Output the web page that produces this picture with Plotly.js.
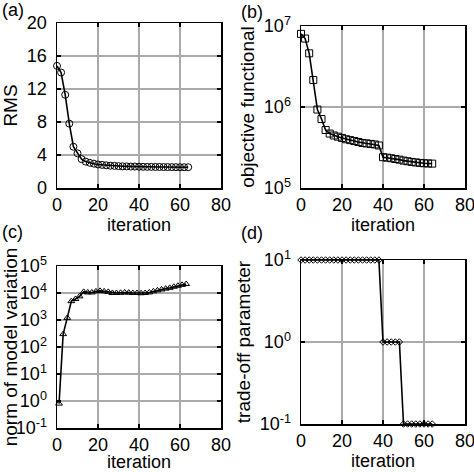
<!DOCTYPE html>
<html>
<head>
<meta charset="utf-8">
<script src="https://cdn.plot.ly/plotly-3.0.1.min.js"></script>
<style>
  html, body { margin: 0; padding: 0; background: #fff; }
  #chart { width: 474px; height: 472px; }
</style>
</head>
<body>
<div id="chart"></div>
<script>
// Inversion convergence history, sampled every second iteration
const iterEven = [0, 2, 4, 6, 8, 10, 12, 14, 16, 18, 20, 22, 24, 26, 28, 30, 32,
                  34, 36, 38, 40, 42, 44, 46, 48, 50, 52, 54, 56, 58, 60, 62, 64];
const iterOdd = [1, 3, 5, 7, 9, 11, 13, 15, 17, 19, 21, 23, 25, 27, 29, 31,
                 33, 35, 37, 39, 41, 43, 45, 47, 49, 51, 53, 55, 57, 59, 61, 63];

// (a) RMS misfit
const rms = [14.8, 14.0, 11.3, 7.8, 5.0, 4.2, 3.5, 3.2, 3.05, 2.95, 2.85, 2.8, 2.75,
             2.7, 2.68, 2.65, 2.63, 2.62, 2.6, 2.6, 2.58, 2.57, 2.56, 2.56, 2.55,
             2.55, 2.54, 2.54, 2.53, 2.53, 2.52, 2.52, 2.52];

// (b) objective functional
const objective = [8.0e6, 7.0e6, 4.6e6, 2.15e6, 9.3e5, 7.1e5, 5.2e5, 4.7e5, 4.45e5,
                   4.3e5, 4.15e5, 4.0e5, 3.9e5, 3.8e5, 3.7e5, 3.6e5, 3.55e5, 3.5e5,
                   3.45e5, 3.35e5, 2.4e5, 2.37e5, 2.33e5, 2.28e5, 2.24e5, 2.18e5,
                   2.14e5, 2.1e5, 2.07e5, 2.04e5, 2.02e5, 2.01e5, 2.0e5];

// (c) norm of model variation
const modelVar = [0.8, 300, 1200, 5000, 6000, 7500, 11000, 10500, 10500, 11500, 12000,
                  11500, 11000, 10000, 10000, 10200, 10500, 10300, 10000, 10000, 9800,
                  10000, 10500, 11500, 12500, 13500, 14500, 15500, 17000, 18500, 20000,
                  21500];

// (d) trade-off parameter
const tradeOff = [10, 10, 10, 10, 10, 10, 10, 10, 10, 10, 10, 10, 10, 10, 10, 10, 10,
                  10, 10, 10, 1, 1, 1, 1, 1, 0.1, 0.1, 0.1, 0.1, 0.1, 0.1, 0.1, 0.1];

const xTicks = [0, 20, 40, 60, 80];
const rmsTicks = [0, 4, 8, 12, 16, 20];

const W = 474, H = 472;
const FONT = 'Liberation Sans, Arial, sans-serif';
const GRID = '#aaaaaa';

// panel boxes in whole pixels
const xDom = (left, right) => [left / W, right / W];
const yDom = (top, bottom) => [(H - bottom) / H, (H - top) / H];

function series(x, y, xa, ya, symbol, size) {
  return {
    x: x, y: y, xaxis: xa, yaxis: ya, type: 'scatter', mode: 'lines+markers',
    line: { color: '#000', width: 1.6 },
    marker: { symbol: symbol, size: size, color: '#000',
              line: { color: '#000', width: 1 } },
    cliponaxis: false,
    hoverinfo: 'skip', showlegend: false
  };
}

function powerTicks(lo, hi) {
  const vals = [], text = [];
  for (let e = lo; e <= hi; e++) {
    vals.push(Math.pow(10, e));
    text.push('10<sup>' + e + '</sup>');
  }
  return { vals, text };
}

function xAxis(domain, anchor) {
  return {
    domain: domain, anchor: anchor, range: [0, 80],
    tickmode: 'array', tickvals: xTicks, ticktext: xTicks.map(String),
    showgrid: true, gridcolor: GRID, gridwidth: 2.5, zeroline: false,
    showline: true, linecolor: '#000', linewidth: 1.5, mirror: 'ticks',
    ticks: 'inside', ticklen: 4, tickcolor: '#000', tickwidth: 1.5,
    ticklabelstandoff: 0, ticklabeloverflow: 'allow', automargin: false,
    tickfont: { family: FONT, size: 18, color: '#000' },
    title: { text: 'iteration', font: { family: FONT, size: 18, color: '#000' }, standoff: 3 }
  };
}

function yAxis(domain, anchor, title, extra) {
  return Object.assign({
    domain: domain, anchor: anchor, tickmode: 'array',
    showgrid: true, gridcolor: GRID, gridwidth: 2.5, zeroline: false,
    showline: true, linecolor: '#000', linewidth: 1.5, mirror: 'ticks',
    ticks: 'inside', ticklen: 4, tickcolor: '#000', tickwidth: 1.5,
    ticklabelstandoff: 5, ticklabeloverflow: 'allow', automargin: false,
    tickfont: { family: FONT, size: 18, color: '#000' },
    title: { text: title, font: { family: FONT, size: 19, color: '#000' }, standoff: 4 }
  }, extra);
}

const objT = powerTicks(5, 7);
const varT = powerTicks(-1, 5);
const tradeT = powerTicks(-1, 1);

const data = [
  series(iterEven, rms, 'x', 'y', 'circle-open', 7),
  series(iterEven, objective, 'x2', 'y2', 'square-open', 7),
  series(iterOdd, modelVar, 'x3', 'y3', 'triangle-up-open', 6),
  series(iterEven, tradeOff, 'x4', 'y4', 'diamond-open', 5)
];

const dxL = xDom(57, 221);
const dxR = xDom(301, 465);

const layout = {
  width: W, height: H,
  margin: { l: 0, r: 0, t: 0, b: 0 },
  showlegend: false,
  paper_bgcolor: '#fff', plot_bgcolor: 'rgba(0,0,0,0)',
  font: { family: FONT, color: '#000' },
  xaxis: xAxis(dxL, 'y'),
  yaxis: yAxis(yDom(23, 188), 'x', 'RMS',
               { range: [0, 20], tickvals: rmsTicks, ticktext: rmsTicks.map(String) }),
  xaxis2: xAxis(dxR, 'y2'),
  yaxis2: yAxis(yDom(26, 188), 'x2', 'objective functional',
                { type: 'log', range: [5, 7], tickvals: objT.vals, ticktext: objT.text }),
  xaxis3: xAxis(dxL, 'y3'),
  yaxis3: yAxis(yDom(266, 428), 'x3', 'norm of model variation',
                { type: 'log', range: [-1, 5], tickvals: varT.vals, ticktext: varT.text }),
  xaxis4: xAxis(dxR, 'y4'),
  yaxis4: yAxis(yDom(260, 424), 'x4', 'trade-off parameter',
                { type: 'log', range: [-1, 1], tickvals: tradeT.vals, ticktext: tradeT.text }),
  annotations: [
    { text: '(a)', x: 0.0, y: 0.979 },
    { text: '(b)', x: 0.505, y: 0.975 },
    { text: '(c)', x: 0.0, y: 0.508 },
    { text: '(d)', x: 0.505, y: 0.506 }
  ].map(a => Object.assign({
    xref: 'paper', yref: 'paper', xanchor: 'left', yanchor: 'middle',
    showarrow: false, font: { family: FONT, size: 18, color: '#000' }
  }, a))
};

Plotly.newPlot('chart', data, layout, { displayModeBar: false, staticPlot: true });
</script>
</body>
</html>
